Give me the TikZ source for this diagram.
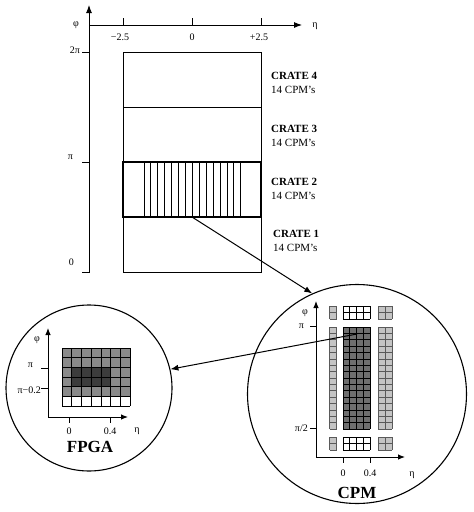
\documentclass[tikz,border=0pt]{standalone}
\usepackage{fontspec}
\setmainfont{Liberation Serif}
\usetikzlibrary{arrows.meta}
\definecolor{lightcell}{HTML}{C4C4C4}
\definecolor{lightline}{HTML}{5A5A5A}
\definecolor{darkcell}{HTML}{6E6E6E}
\definecolor{fpgamid}{HTML}{8A8A8A}
\definecolor{fpgadark}{HTML}{3C3C3C}
% #1 x0, #2 y0, #3 ncols, #4 nrows, #5 cell w, #6 cell h, #7 fill, #8 line colour
\newcommand{\cellblock}[8]{%
  \fill[#7] (#1,#2) rectangle ({#1+#3*#5},{#2+#4*#6});
  \foreach \ci in {0,...,#3} {\draw[#8, line width=0.7pt] ({#1+\ci*#5},#2) -- ({#1+\ci*#5},{#2+#4*#6});}
  \foreach \cj in {0,...,#4} {\draw[#8, line width=0.7pt] (#1,{#2+\cj*#6}) -- ({#1+#3*#5},{#2+\cj*#6});}
}
\begin{document}
\begin{tikzpicture}[x=1pt,y=-1pt,
  ax/.style={line width=0.9pt},
  arr/.style={-{Latex[length=8pt,width=6pt]}, line width=1pt},
  lbl/.style={font=\fontsize{10}{12}\selectfont, inner sep=0pt},
  cratelbl/.style={font=\fontsize{11}{13.5}\selectfont, align=left, anchor=west, inner sep=0pt},
  bigl/.style={font=\fontsize{17}{20}\selectfont\bfseries, inner sep=0pt},
  ring/.style={circle, draw, line width=1.1pt, inner sep=0pt}]
\useasboundingbox (0,0) rectangle (474,512);

% ---------- top axes ----------
\draw[ax,-{Latex[length=8pt,width=6pt]}] (89,273) -- (89,5);
\draw[ax,-{Latex[length=8pt,width=6pt]}] (89,25) -- (302,25);
\foreach \x in {123,192,261} {\draw[ax] (\x,18) -- (\x,25);}
\foreach \y in {52,162,272} {\draw[ax] (82,\y) -- (89,\y);}
\node[lbl] (phitop) at (76,25) {φ};
\node[lbl] (etatop) at (315,26) {η};
\node[lbl] (tm) at (120,37) {−2.5};
\node[lbl] (tz) at (192,37) {0};
\node[lbl] (tp) at (259,37) {+2.5};
\node[lbl, anchor=east] (l2pi) at (80,50) {2π};
\node[lbl, anchor=east] (lpi) at (73,157) {π};
\node[lbl, anchor=east] (lzero) at (74,262) {0};

% ---------- crates ----------
\draw[line width=0.8pt] (123,52) rectangle (261,272);
\draw[line width=0.8pt] (123,107) -- (261,107);
\foreach \i in {0,...,14} {\draw[line width=0.9pt] ({144+\i*6.914},162) -- ({144+\i*6.914},217);}
\draw[line width=1.4pt] (123,162) rectangle (261,217);
\coordinate (c2bot) at (192,217);

\node[cratelbl] (crate4) at (271,83) {\textbf{CRATE 4}\\14 CPM's};
\node[cratelbl] (crate3) at (271,136) {\textbf{CRATE 3}\\14 CPM's};
\node[cratelbl] (crate2) at (271,189) {\textbf{CRATE 2}\\14 CPM's};
\node[cratelbl] (crate1) at (273,241) {\textbf{CRATE 1}\\14 CPM's};

% ---------- CPM circle ----------
\node[ring, minimum size=219pt] (cpm) at (357,394) {};
% blocks
\cellblock{329.5}{306}{1}{2}{7.2}{6.6}{lightcell}{lightline}
\cellblock{343}{306}{4}{2}{6.75}{6.6}{white}{black}
\cellblock{378}{306}{2}{2}{7}{6.6}{lightcell}{lightline}
\cellblock{329.5}{327}{1}{16}{7.2}{6.375}{lightcell}{lightline}
\cellblock{343}{327}{4}{16}{6.75}{6.375}{darkcell}{black}
\cellblock{378}{327}{2}{16}{7}{6.375}{lightcell}{lightline}
\cellblock{329.5}{437}{1}{2}{7.2}{6.6}{lightcell}{lightline}
\cellblock{343}{437}{4}{2}{6.75}{6.6}{white}{black}
\cellblock{378}{437}{2}{2}{7}{6.6}{lightcell}{lightline}
% axes
\draw[ax,-{Latex[length=7pt,width=5.5pt]}] (316,457) -- (316,301);
\draw[ax,-{Latex[length=7pt,width=5.5pt]}] (316,457) -- (405,457);
\draw[ax] (310,326.5) -- (316,326.5);
\draw[ax] (310,428.5) -- (316,428.5);
\draw[ax] (343,457) -- (343,463);
\draw[ax] (370,457) -- (370,463);
\node[lbl] (cphi) at (305,313) {φ};
\node[lbl, anchor=east] (cpi) at (304,326) {π};
\node[lbl, anchor=east] (cpi2) at (308,428) {π/2};
\node[lbl] (c0) at (343,473) {0};
\node[lbl] (c04) at (370,473) {0.4};
\node[lbl] (ceta) at (412,475) {η};
\node[bigl] (cpmlbl) at (357,493) {CPM};
\coordinate (cpmsrc) at (357,334);

% ---------- FPGA circle ----------
\node[ring, minimum size=166pt] (fpga) at (89,388) {};
\fill[fpgamid] (62,348) rectangle (130,396.3);
\fill[fpgadark] (71.71,367.3) rectangle (110.57,386.6);
\foreach \i in {0,...,7} {\draw[line width=0.7pt] ({62+\i*9.714},348) -- ({62+\i*9.714},406);}
\foreach \j in {0,...,6} {\draw[line width=0.7pt] (62,{348+\j*9.667}) -- (130,{348+\j*9.667});}
\draw[ax,-{Latex[length=7pt,width=5.5pt]}] (48,417) -- (48,328);
\draw[ax,-{Latex[length=7pt,width=5.5pt]}] (48,417) -- (128,417);
\draw[ax] (41,368) -- (48,368);
\draw[ax] (41,388) -- (48,388);
\draw[ax] (69,417) -- (69,423);
\draw[ax] (110,417) -- (110,423);
\node[lbl] (fphi) at (37,340) {φ};
\node[lbl, anchor=east] (fpi) at (33,365) {π};
\node[lbl, anchor=east] (fpi2) at (41,390) {π−0.2};
\node[lbl] (f0) at (69,431) {0};
\node[lbl] (f04) at (110,431) {0.4};
\node[lbl] (feta) at (137,431) {η};
\node[bigl] (fpgalbl) at (90,447) {FPGA};

% ---------- connectors ----------
\draw[arr] (c2bot) -- (cpm.114);
\draw[arr] (cpmsrc) -- (fpga.13);
\end{tikzpicture}
\end{document}
